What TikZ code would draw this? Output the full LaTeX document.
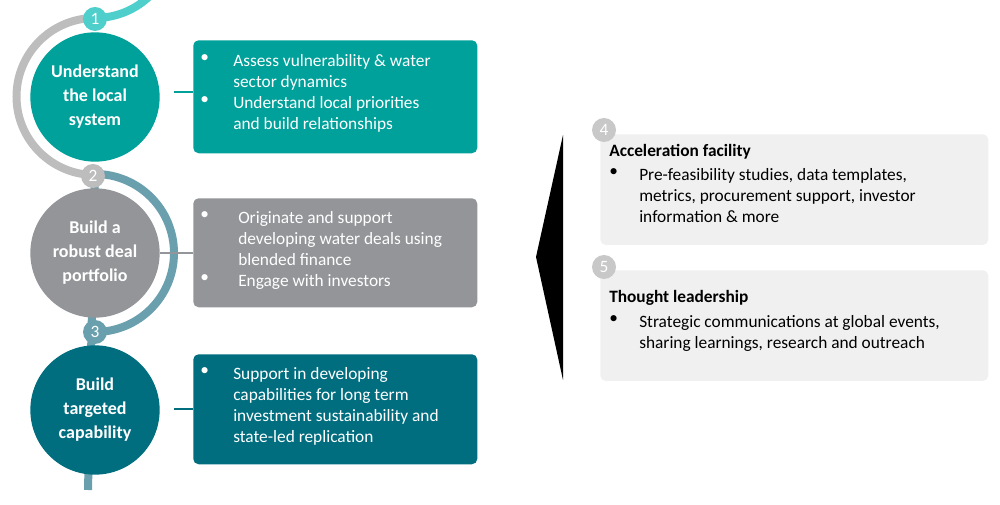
\documentclass[tikz,border=0pt]{standalone}
\usepackage{fontspec}
\setmainfont{Carlito}
\definecolor{tealA}{HTML}{00A19A}
\definecolor{tealL}{HTML}{4FCFCB}
\definecolor{greyB}{HTML}{939598}
\definecolor{greyL}{HTML}{BDBDBD}
\definecolor{tealD}{HTML}{006E7F}
\definecolor{tealM}{HTML}{6A9FAE}
\definecolor{panel}{HTML}{F0F0F0}
\definecolor{badgeG}{HTML}{C8C8C8}
\begin{document}
\begin{tikzpicture}[x=0.75pt,y=-0.75pt,
  step circle/.style={circle,minimum size=97pt,inner sep=0pt,align=center,text=white,font=\fontsize{13.5}{18}\selectfont\bfseries},
  badge/.style={circle,minimum size=18pt,inner sep=0pt,text=white,font=\fontsize{13}{13}\selectfont},
  box/.style={rounded corners=4pt,minimum width=213pt,anchor=north west,inner sep=0pt},
  para/.style={anchor=north west,inner sep=0pt,align=left,text=white,font=\fontsize{13}{15.75}\selectfont},
  bul/.style={anchor=north west,inner sep=0pt,text=white,font=\fontsize{13}{15.75}\selectfont},
  dpara/.style={anchor=north west,inner sep=0pt,align=left,text=black,font=\fontsize{13}{15.75}\selectfont},
  arcline/.style={line width=6pt},
]
\useasboundingbox (0,0) rectangle (1000,505);
% arcs
\draw[arcline,tealL] (95,18) arc[start angle=90,end angle=-90,radius=79];
\draw[arcline,greyL] (95,175) arc[start angle=90,end angle=270,radius=78.5];
\draw[arcline,tealM] (95,332) arc[start angle=90,end angle=-90,radius=79] -- (88,490);
% connectors
\coordinate (a1) at (174,92);
\coordinate (a3) at (174,409);
% circles
\node[step circle,fill=tealA] (c1) at (95,97) {Understand\\the local\\system};
\node[step circle,fill=greyB] (c2) at (95,253) {Build a\\robust deal\\portfolio};
\node[step circle,fill=tealD] (c3) at (95,410) {Build\\targeted\\capability};
% badges
\node[badge,fill=tealL] (b1) at (95,19) {1};
\node[badge,fill=greyL] (b2) at (93,176) {2};
\node[badge,fill=tealM] (b3) at (95,332) {3};
% boxes
\node[box,fill=tealA,minimum height=84.75pt] (x1) at (193,40) {};
\node[box,fill=greyB,minimum height=81.75pt] (x2) at (193,198) {};
\node[box,fill=tealD,minimum height=82.5pt] (x3) at (193,354) {};
\draw[tealA,line width=1pt] (a1) -- (x1.west |- a1);
\draw[greyB,line width=1pt] (c2.east) -- (x2.west |- c2.east);
\draw[tealD,line width=1pt] (a3) -- (x3.west |- a3);
% box texts
\node[bul] (u1) at (200,54) {•};
\node[para] (t1) at (233,54) {Assess vulnerability \& water\\sector dynamics};
\node[bul] (u2) at (200,96) {•};
\node[para] (t2) at (233,96) {Understand local priorities\\and build relationships};
\node[bul] (u3) at (200,211) {•};
\node[para] (t3) at (238,211) {Originate and support\\developing water deals using\\blended finance};
\node[bul] (u4) at (200,274) {•};
\node[para] (t4) at (238,274) {Engage with investors};
\node[bul] (u5) at (200,367) {•};
\node[para] (t5) at (233,367) {Support in developing\\capabilities for long term\\investment sustainability and\\state-led replication};
% arrow triangle
\fill[black] (563,135) -- (536,257) -- (563,380) -- cycle;
% right panels
\node[box,fill=panel,minimum width=291pt,minimum height=83pt] (p1) at (600,134) {};
\node[box,fill=panel,minimum width=291pt,minimum height=83pt] (p2) at (600,270) {};
\node[badge,fill=badgeG] (b4) at (604,130) {4};
\node[badge,fill=badgeG] (b5) at (604,267) {5};
\node[dpara,font=\fontsize{13}{15.75}\selectfont\bfseries] (h1) at (609,144) {Acceleration facility};
\node[dpara] (v1) at (609,168) {•};
\node[dpara] (d1) at (639,168) {Pre-feasibility studies, data templates,\\metrics, procurement support, investor\\information \& more};
\node[dpara,font=\fontsize{13}{15.75}\selectfont\bfseries] (h2) at (609,290) {Thought leadership};
\node[dpara] (v2) at (609,315) {•};
\node[dpara] (d2) at (639,315) {Strategic communications at global events,\\sharing learnings, research and outreach};
\end{tikzpicture}
\end{document}
